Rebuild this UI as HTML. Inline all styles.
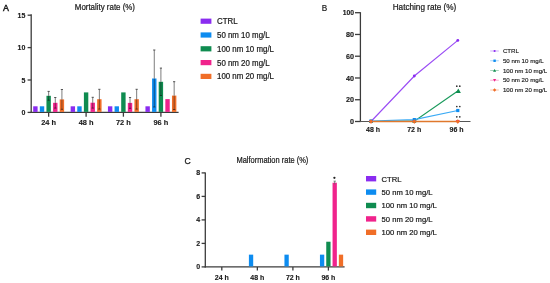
<!DOCTYPE html>
<html><head><meta charset="utf-8"><style>
html,body{margin:0;padding:0;background:#fff;}
svg{display:block;font-family:"Liberation Sans",sans-serif;will-change:transform;}
text{-webkit-font-smoothing:antialiased;}
</style></head><body>
<svg width="550" height="283" viewBox="0 0 550 283">
<rect x="0" y="0" width="550" height="283" fill="#fff"/>
<text x="3.00" y="10.50" font-size="8.9" stroke="#1a1a1a" stroke-width="0.45" text-anchor="start" fill="#1a1a1a">A</text>
<text x="74.80" y="9.90" font-size="8.6" stroke="#1a1a1a" stroke-width="0.22" text-anchor="start" textLength="60.2" lengthAdjust="spacingAndGlyphs" fill="#1a1a1a">Mortality rate (%)</text>
<line x1="31.20" y1="14.30" x2="31.20" y2="112.95" stroke="#3c3c3c" stroke-width="1.3"/>
<line x1="27.60" y1="112.40" x2="31.20" y2="112.40" stroke="#3c3c3c" stroke-width="1.3"/>
<text x="25.40" y="114.90" font-size="7" font-weight="bold" stroke="#1a1a1a" stroke-width="0.12" text-anchor="end" fill="#1a1a1a">0</text>
<line x1="27.60" y1="80.00" x2="31.20" y2="80.00" stroke="#3c3c3c" stroke-width="1.3"/>
<text x="25.40" y="82.50" font-size="7" font-weight="bold" stroke="#1a1a1a" stroke-width="0.12" text-anchor="end" fill="#1a1a1a">5</text>
<line x1="27.60" y1="47.60" x2="31.20" y2="47.60" stroke="#3c3c3c" stroke-width="1.3"/>
<text x="25.40" y="50.10" font-size="7" font-weight="bold" stroke="#1a1a1a" stroke-width="0.12" text-anchor="end" fill="#1a1a1a">10</text>
<line x1="27.60" y1="15.20" x2="31.20" y2="15.20" stroke="#3c3c3c" stroke-width="1.3"/>
<text x="25.40" y="17.70" font-size="7" font-weight="bold" stroke="#1a1a1a" stroke-width="0.12" text-anchor="end" fill="#1a1a1a">15</text>
<line x1="30.70" y1="112.40" x2="178.60" y2="112.40" stroke="#3c3c3c" stroke-width="1.3"/>
<rect x="33.19" y="106.30" width="4.40" height="5.60" fill="#8A2CF0"/>
<rect x="39.82" y="106.30" width="4.40" height="5.60" fill="#0D8CF0"/>
<rect x="46.45" y="95.80" width="4.40" height="16.10" fill="#0F8C50"/>
<rect x="53.08" y="102.80" width="4.40" height="9.10" fill="#F0238C"/>
<rect x="59.71" y="99.40" width="4.40" height="12.50" fill="#F06E28"/>
<line x1="48.65" y1="91.40" x2="48.65" y2="95.80" stroke="#666666" stroke-width="0.85"/>
<line x1="48.65" y1="95.80" x2="48.65" y2="100.20" stroke="rgba(20,20,20,0.55)" stroke-width="0.85"/>
<line x1="47.55" y1="91.40" x2="49.75" y2="91.40" stroke="#444" stroke-width="0.9"/>
<line x1="47.55" y1="100.20" x2="49.75" y2="100.20" stroke="rgba(20,20,20,0.7)" stroke-width="0.9"/>
<line x1="55.28" y1="97.50" x2="55.28" y2="102.80" stroke="#666666" stroke-width="0.85"/>
<line x1="55.28" y1="102.80" x2="55.28" y2="108.10" stroke="rgba(20,20,20,0.55)" stroke-width="0.85"/>
<line x1="54.18" y1="97.50" x2="56.38" y2="97.50" stroke="#444" stroke-width="0.9"/>
<line x1="54.18" y1="108.10" x2="56.38" y2="108.10" stroke="rgba(20,20,20,0.7)" stroke-width="0.9"/>
<line x1="61.91" y1="89.50" x2="61.91" y2="99.40" stroke="#666666" stroke-width="0.85"/>
<line x1="61.91" y1="99.40" x2="61.91" y2="109.30" stroke="rgba(20,20,20,0.55)" stroke-width="0.85"/>
<line x1="60.81" y1="89.50" x2="63.01" y2="89.50" stroke="#444" stroke-width="0.9"/>
<line x1="60.81" y1="109.30" x2="63.01" y2="109.30" stroke="rgba(20,20,20,0.7)" stroke-width="0.9"/>
<line x1="48.65" y1="112.40" x2="48.65" y2="116.70" stroke="#3c3c3c" stroke-width="1.3"/>
<text x="48.65" y="125.20" font-size="7.4" font-weight="bold" stroke="#1a1a1a" stroke-width="0.12" text-anchor="middle" fill="#1a1a1a">24 h</text>
<rect x="70.64" y="106.30" width="4.40" height="5.60" fill="#8A2CF0"/>
<rect x="77.27" y="106.30" width="4.40" height="5.60" fill="#0D8CF0"/>
<rect x="83.90" y="92.40" width="4.40" height="19.50" fill="#0F8C50"/>
<rect x="90.53" y="102.70" width="4.40" height="9.20" fill="#F0238C"/>
<rect x="97.16" y="99.20" width="4.40" height="12.70" fill="#F06E28"/>
<line x1="92.73" y1="97.30" x2="92.73" y2="102.70" stroke="#666666" stroke-width="0.85"/>
<line x1="92.73" y1="102.70" x2="92.73" y2="108.10" stroke="rgba(20,20,20,0.55)" stroke-width="0.85"/>
<line x1="91.63" y1="97.30" x2="93.83" y2="97.30" stroke="#444" stroke-width="0.9"/>
<line x1="91.63" y1="108.10" x2="93.83" y2="108.10" stroke="rgba(20,20,20,0.7)" stroke-width="0.9"/>
<line x1="99.36" y1="89.30" x2="99.36" y2="99.20" stroke="#666666" stroke-width="0.85"/>
<line x1="99.36" y1="99.20" x2="99.36" y2="109.10" stroke="rgba(20,20,20,0.55)" stroke-width="0.85"/>
<line x1="98.26" y1="89.30" x2="100.46" y2="89.30" stroke="#444" stroke-width="0.9"/>
<line x1="98.26" y1="109.10" x2="100.46" y2="109.10" stroke="rgba(20,20,20,0.7)" stroke-width="0.9"/>
<line x1="86.10" y1="112.40" x2="86.10" y2="116.70" stroke="#3c3c3c" stroke-width="1.3"/>
<text x="86.10" y="125.20" font-size="7.4" font-weight="bold" stroke="#1a1a1a" stroke-width="0.12" text-anchor="middle" fill="#1a1a1a">48 h</text>
<rect x="107.94" y="106.30" width="4.40" height="5.60" fill="#8A2CF0"/>
<rect x="114.57" y="106.30" width="4.40" height="5.60" fill="#0D8CF0"/>
<rect x="121.20" y="92.40" width="4.40" height="19.50" fill="#0F8C50"/>
<rect x="127.83" y="102.90" width="4.40" height="9.00" fill="#F0238C"/>
<rect x="134.46" y="99.20" width="4.40" height="12.70" fill="#F06E28"/>
<line x1="130.03" y1="97.50" x2="130.03" y2="102.90" stroke="#666666" stroke-width="0.85"/>
<line x1="130.03" y1="102.90" x2="130.03" y2="108.30" stroke="rgba(20,20,20,0.55)" stroke-width="0.85"/>
<line x1="128.93" y1="97.50" x2="131.13" y2="97.50" stroke="#444" stroke-width="0.9"/>
<line x1="128.93" y1="108.30" x2="131.13" y2="108.30" stroke="rgba(20,20,20,0.7)" stroke-width="0.9"/>
<line x1="136.66" y1="89.30" x2="136.66" y2="99.20" stroke="#666666" stroke-width="0.85"/>
<line x1="136.66" y1="99.20" x2="136.66" y2="109.10" stroke="rgba(20,20,20,0.55)" stroke-width="0.85"/>
<line x1="135.56" y1="89.30" x2="137.76" y2="89.30" stroke="#444" stroke-width="0.9"/>
<line x1="135.56" y1="109.10" x2="137.76" y2="109.10" stroke="rgba(20,20,20,0.7)" stroke-width="0.9"/>
<line x1="123.40" y1="112.40" x2="123.40" y2="116.70" stroke="#3c3c3c" stroke-width="1.3"/>
<text x="123.40" y="125.20" font-size="7.4" font-weight="bold" stroke="#1a1a1a" stroke-width="0.12" text-anchor="middle" fill="#1a1a1a">72 h</text>
<rect x="145.44" y="106.30" width="4.40" height="5.60" fill="#8A2CF0"/>
<rect x="152.07" y="78.50" width="4.40" height="33.40" fill="#0D8CF0"/>
<rect x="158.70" y="81.80" width="4.40" height="30.10" fill="#0F8C50"/>
<rect x="165.33" y="99.10" width="4.40" height="12.80" fill="#F0238C"/>
<rect x="171.96" y="95.60" width="4.40" height="16.30" fill="#F06E28"/>
<line x1="154.27" y1="50.00" x2="154.27" y2="78.50" stroke="#666666" stroke-width="0.85"/>
<line x1="154.27" y1="78.50" x2="154.27" y2="107.00" stroke="rgba(20,20,20,0.55)" stroke-width="0.85"/>
<line x1="153.17" y1="50.00" x2="155.37" y2="50.00" stroke="#444" stroke-width="0.9"/>
<line x1="153.17" y1="107.00" x2="155.37" y2="107.00" stroke="rgba(20,20,20,0.7)" stroke-width="0.9"/>
<line x1="160.90" y1="68.10" x2="160.90" y2="81.80" stroke="#666666" stroke-width="0.85"/>
<line x1="160.90" y1="81.80" x2="160.90" y2="95.50" stroke="rgba(20,20,20,0.55)" stroke-width="0.85"/>
<line x1="159.80" y1="68.10" x2="162.00" y2="68.10" stroke="#444" stroke-width="0.9"/>
<line x1="159.80" y1="95.50" x2="162.00" y2="95.50" stroke="rgba(20,20,20,0.7)" stroke-width="0.9"/>
<line x1="174.16" y1="81.70" x2="174.16" y2="95.60" stroke="#666666" stroke-width="0.85"/>
<line x1="174.16" y1="95.60" x2="174.16" y2="109.50" stroke="rgba(20,20,20,0.55)" stroke-width="0.85"/>
<line x1="173.06" y1="81.70" x2="175.26" y2="81.70" stroke="#444" stroke-width="0.9"/>
<line x1="173.06" y1="109.50" x2="175.26" y2="109.50" stroke="rgba(20,20,20,0.7)" stroke-width="0.9"/>
<line x1="160.90" y1="112.40" x2="160.90" y2="116.70" stroke="#3c3c3c" stroke-width="1.3"/>
<text x="160.90" y="125.20" font-size="7.4" font-weight="bold" stroke="#1a1a1a" stroke-width="0.12" text-anchor="middle" fill="#1a1a1a">96 h</text>
<rect x="200.60" y="18.60" width="10.80" height="5.20" fill="#8A2CF0"/>
<text x="217.00" y="24.10" font-size="8.3" stroke="#1a1a1a" stroke-width="0.22" text-anchor="start" textLength="20.59" lengthAdjust="spacingAndGlyphs" fill="#1a1a1a">CTRL</text>
<rect x="200.60" y="32.40" width="10.80" height="5.20" fill="#0D8CF0"/>
<text x="217.00" y="37.90" font-size="8.3" stroke="#1a1a1a" stroke-width="0.22" text-anchor="start" textLength="52.6" lengthAdjust="spacingAndGlyphs" fill="#1a1a1a">50 nm 10 mg/L</text>
<rect x="200.60" y="46.20" width="10.80" height="5.20" fill="#0F8C50"/>
<text x="217.00" y="51.70" font-size="8.3" stroke="#1a1a1a" stroke-width="0.22" text-anchor="start" textLength="56.98" lengthAdjust="spacingAndGlyphs" fill="#1a1a1a">100 nm 10 mg/L</text>
<rect x="200.60" y="60.00" width="10.80" height="5.20" fill="#F0238C"/>
<text x="217.00" y="65.50" font-size="8.3" stroke="#1a1a1a" stroke-width="0.22" text-anchor="start" textLength="52.6" lengthAdjust="spacingAndGlyphs" fill="#1a1a1a">50 nm 20 mg/L</text>
<rect x="200.60" y="73.80" width="10.80" height="5.20" fill="#F06E28"/>
<text x="217.00" y="79.30" font-size="8.3" stroke="#1a1a1a" stroke-width="0.22" text-anchor="start" textLength="56.98" lengthAdjust="spacingAndGlyphs" fill="#1a1a1a">100 nm 20 mg/L</text>
<text x="321.70" y="10.60" font-size="8.2" stroke="#1a1a1a" stroke-width="0.2" text-anchor="start" fill="#1a1a1a">B</text>
<text x="392.70" y="9.80" font-size="8.5" stroke="#1a1a1a" stroke-width="0.22" text-anchor="start" textLength="63.6" lengthAdjust="spacingAndGlyphs" fill="#1a1a1a">Hatching rate (%)</text>
<line x1="360.40" y1="12.20" x2="360.40" y2="122.05" stroke="#3c3c3c" stroke-width="1.3"/>
<line x1="355.00" y1="121.50" x2="360.40" y2="121.50" stroke="#3c3c3c" stroke-width="1.3"/>
<text x="354.00" y="124.05" font-size="7.2" font-weight="bold" stroke="#1a1a1a" stroke-width="0.15" text-anchor="end" fill="#1a1a1a">0</text>
<line x1="355.00" y1="99.74" x2="360.40" y2="99.74" stroke="#3c3c3c" stroke-width="1.3"/>
<text x="354.00" y="102.29" font-size="7.2" font-weight="bold" stroke="#1a1a1a" stroke-width="0.15" text-anchor="end" fill="#1a1a1a">20</text>
<line x1="355.00" y1="77.98" x2="360.40" y2="77.98" stroke="#3c3c3c" stroke-width="1.3"/>
<text x="354.00" y="80.53" font-size="7.2" font-weight="bold" stroke="#1a1a1a" stroke-width="0.15" text-anchor="end" fill="#1a1a1a">40</text>
<line x1="355.00" y1="56.22" x2="360.40" y2="56.22" stroke="#3c3c3c" stroke-width="1.3"/>
<text x="354.00" y="58.77" font-size="7.2" font-weight="bold" stroke="#1a1a1a" stroke-width="0.15" text-anchor="end" fill="#1a1a1a">60</text>
<line x1="355.00" y1="34.46" x2="360.40" y2="34.46" stroke="#3c3c3c" stroke-width="1.3"/>
<text x="354.00" y="37.01" font-size="7.2" font-weight="bold" stroke="#1a1a1a" stroke-width="0.15" text-anchor="end" fill="#1a1a1a">80</text>
<line x1="355.00" y1="12.70" x2="360.40" y2="12.70" stroke="#3c3c3c" stroke-width="1.3"/>
<text x="354.00" y="15.25" font-size="7.2" font-weight="bold" stroke="#1a1a1a" stroke-width="0.15" text-anchor="end" textLength="11.3" lengthAdjust="spacingAndGlyphs" fill="#1a1a1a">100</text>
<line x1="359.90" y1="121.50" x2="470.50" y2="121.50" stroke="#555555" stroke-width="1.1"/>
<text x="373.00" y="132.40" font-size="7" font-weight="bold" stroke="#1a1a1a" stroke-width="0.12" text-anchor="middle" fill="#1a1a1a">48 h</text>
<text x="414.20" y="132.40" font-size="7" font-weight="bold" stroke="#1a1a1a" stroke-width="0.12" text-anchor="middle" fill="#1a1a1a">72 h</text>
<text x="456.60" y="132.40" font-size="7" font-weight="bold" stroke="#1a1a1a" stroke-width="0.12" text-anchor="middle" fill="#1a1a1a">96 h</text>
<polyline points="371.00,121.50 414.30,121.50 457.80,121.50" fill="none" stroke="#F0238C" stroke-width="1"/>
<polyline points="371.00,121.50 414.30,121.20 457.80,91.00" fill="none" stroke="#1a9a5c" stroke-width="1.2"/>
<polyline points="371.00,121.00 414.30,119.60 457.80,110.50" fill="none" stroke="#3aaaf5" stroke-width="1.1"/>
<polyline points="371.00,121.50 414.30,121.50 457.80,121.50" fill="none" stroke="#E0782C" stroke-width="1.35"/>
<polyline points="371.00,121.50 414.30,76.00 457.80,40.40" fill="none" stroke="#9A4CF5" stroke-width="1.15"/>
<circle cx="371.00" cy="121.50" r="1.44" fill="#8A2CF0"/>
<polygon points="371.00,123.58 373.08,119.90 368.92,119.90" fill="#F0238C"/>
<polygon points="371.00,119.42 373.08,123.10 368.92,123.10" fill="#0F8C50"/>
<rect x="369.40" y="119.40" width="3.20" height="3.20" fill="#0D8CF0"/>
<polygon points="371.00,119.26 373.24,121.50 371.00,123.74 368.76,121.50" fill="#F06E28"/>
<circle cx="414.30" cy="76.00" r="1.44" fill="#8A2CF0"/>
<polygon points="414.30,123.58 416.38,119.90 412.22,119.90" fill="#F0238C"/>
<polygon points="414.30,119.12 416.38,122.80 412.22,122.80" fill="#0F8C50"/>
<rect x="412.70" y="118.00" width="3.20" height="3.20" fill="#0D8CF0"/>
<polygon points="414.30,119.26 416.54,121.50 414.30,123.74 412.06,121.50" fill="#F06E28"/>
<circle cx="457.80" cy="40.40" r="1.44" fill="#8A2CF0"/>
<polygon points="457.80,123.58 459.88,119.90 455.72,119.90" fill="#F0238C"/>
<polygon points="458.30,88.40 460.90,93.00 455.70,93.00" fill="#0F8C50"/>
<rect x="456.20" y="108.90" width="3.20" height="3.20" fill="#0D8CF0"/>
<polygon points="457.80,119.26 460.04,121.50 457.80,123.74 455.56,121.50" fill="#F06E28"/>
<circle cx="456.80" cy="86.2" r="0.85" fill="#333"/>
<circle cx="459.80" cy="86.2" r="0.85" fill="#333"/>
<circle cx="456.80" cy="106.5" r="0.85" fill="#333"/>
<circle cx="459.80" cy="106.5" r="0.85" fill="#333"/>
<circle cx="456.80" cy="116.8" r="0.85" fill="#333"/>
<circle cx="459.80" cy="116.8" r="0.85" fill="#333"/>
<line x1="490.20" y1="51.00" x2="498.80" y2="51.00" stroke="#c9a6f8" stroke-width="0.9"/>
<circle cx="494.60" cy="51.00" r="1.08" fill="#8A2CF0"/>
<text x="502.90" y="53.00" font-size="5.7" stroke="#1a1a1a" stroke-width="0.15" text-anchor="start" textLength="16.0" lengthAdjust="spacingAndGlyphs" fill="#1a1a1a">CTRL</text>
<line x1="490.20" y1="60.75" x2="498.80" y2="60.75" stroke="#9fd0f8" stroke-width="0.9"/>
<rect x="493.40" y="59.55" width="2.40" height="2.40" fill="#0D8CF0"/>
<text x="502.90" y="62.75" font-size="5.7" stroke="#1a1a1a" stroke-width="0.15" text-anchor="start" textLength="40.87" lengthAdjust="spacingAndGlyphs" fill="#1a1a1a">50 nm 10 mg/L</text>
<line x1="490.20" y1="70.50" x2="498.80" y2="70.50" stroke="#9fcfb5" stroke-width="0.9"/>
<polygon points="494.60,68.94 496.16,71.70 493.04,71.70" fill="#0F8C50"/>
<text x="502.90" y="72.50" font-size="5.7" stroke="#1a1a1a" stroke-width="0.15" text-anchor="start" textLength="44.28" lengthAdjust="spacingAndGlyphs" fill="#1a1a1a">100 nm 10 mg/L</text>
<line x1="490.20" y1="80.25" x2="498.80" y2="80.25" stroke="#f8a6cf" stroke-width="0.9"/>
<polygon points="494.60,81.81 496.16,79.05 493.04,79.05" fill="#F0238C"/>
<text x="502.90" y="82.25" font-size="5.7" stroke="#1a1a1a" stroke-width="0.15" text-anchor="start" textLength="40.87" lengthAdjust="spacingAndGlyphs" fill="#1a1a1a">50 nm 20 mg/L</text>
<line x1="490.20" y1="90.00" x2="498.80" y2="90.00" stroke="#f8c0a0" stroke-width="0.9"/>
<polygon points="494.60,88.32 496.28,90.00 494.60,91.68 492.92,90.00" fill="#F06E28"/>
<text x="502.90" y="92.00" font-size="5.7" stroke="#1a1a1a" stroke-width="0.15" text-anchor="start" textLength="44.28" lengthAdjust="spacingAndGlyphs" fill="#1a1a1a">100 nm 20 mg/L</text>
<text x="184.40" y="164.10" font-size="8.6" stroke="#1a1a1a" stroke-width="0.25" text-anchor="start" fill="#1a1a1a">C</text>
<text x="236.50" y="163.10" font-size="8.5" stroke="#1a1a1a" stroke-width="0.22" text-anchor="start" textLength="71.8" lengthAdjust="spacingAndGlyphs" fill="#1a1a1a">Malformation rate (%)</text>
<line x1="205.30" y1="172.40" x2="205.30" y2="267.45" stroke="#3c3c3c" stroke-width="1.3"/>
<line x1="201.60" y1="266.90" x2="205.30" y2="266.90" stroke="#3c3c3c" stroke-width="1.3"/>
<text x="200.20" y="269.40" font-size="7.0" font-weight="bold" stroke="#1a1a1a" stroke-width="0.12" text-anchor="end" fill="#1a1a1a">0</text>
<line x1="201.60" y1="243.40" x2="205.30" y2="243.40" stroke="#3c3c3c" stroke-width="1.3"/>
<text x="200.20" y="245.90" font-size="7.0" font-weight="bold" stroke="#1a1a1a" stroke-width="0.12" text-anchor="end" fill="#1a1a1a">2</text>
<line x1="201.60" y1="219.90" x2="205.30" y2="219.90" stroke="#3c3c3c" stroke-width="1.3"/>
<text x="200.20" y="222.40" font-size="7.0" font-weight="bold" stroke="#1a1a1a" stroke-width="0.12" text-anchor="end" fill="#1a1a1a">4</text>
<line x1="201.60" y1="196.40" x2="205.30" y2="196.40" stroke="#3c3c3c" stroke-width="1.3"/>
<text x="200.20" y="198.90" font-size="7.0" font-weight="bold" stroke="#1a1a1a" stroke-width="0.12" text-anchor="end" fill="#1a1a1a">6</text>
<line x1="201.60" y1="172.90" x2="205.30" y2="172.90" stroke="#3c3c3c" stroke-width="1.3"/>
<text x="200.20" y="175.40" font-size="7.0" font-weight="bold" stroke="#1a1a1a" stroke-width="0.12" text-anchor="end" fill="#1a1a1a">8</text>
<line x1="204.80" y1="266.90" x2="344.60" y2="266.90" stroke="#3c3c3c" stroke-width="1.3"/>
<line x1="221.80" y1="266.90" x2="221.80" y2="270.60" stroke="#3c3c3c" stroke-width="1.3"/>
<text x="221.80" y="279.80" font-size="7" font-weight="bold" stroke="#1a1a1a" stroke-width="0.12" text-anchor="middle" fill="#1a1a1a">24 h</text>
<rect x="248.90" y="254.65" width="4.30" height="11.75" fill="#0D8CF0"/>
<line x1="257.35" y1="266.90" x2="257.35" y2="270.60" stroke="#3c3c3c" stroke-width="1.3"/>
<text x="257.35" y="279.80" font-size="7" font-weight="bold" stroke="#1a1a1a" stroke-width="0.12" text-anchor="middle" fill="#1a1a1a">48 h</text>
<rect x="284.45" y="254.65" width="4.30" height="11.75" fill="#0D8CF0"/>
<line x1="292.90" y1="266.90" x2="292.90" y2="270.60" stroke="#3c3c3c" stroke-width="1.3"/>
<text x="292.90" y="279.80" font-size="7" font-weight="bold" stroke="#1a1a1a" stroke-width="0.12" text-anchor="middle" fill="#1a1a1a">72 h</text>
<rect x="319.95" y="254.65" width="4.30" height="11.75" fill="#0D8CF0"/>
<rect x="326.25" y="241.72" width="4.30" height="24.68" fill="#0F8C50"/>
<rect x="332.55" y="182.74" width="4.30" height="83.66" fill="#F0238C"/>
<rect x="338.85" y="254.65" width="4.30" height="11.75" fill="#F06E28"/>
<line x1="328.40" y1="266.90" x2="328.40" y2="270.60" stroke="#3c3c3c" stroke-width="1.3"/>
<text x="328.40" y="279.80" font-size="7" font-weight="bold" stroke="#1a1a1a" stroke-width="0.12" text-anchor="middle" fill="#1a1a1a">96 h</text>
<line x1="334.70" y1="181.14" x2="334.70" y2="184.34" stroke="#666666" stroke-width="0.8"/>
<line x1="333.50" y1="181.14" x2="335.90" y2="181.14" stroke="#666666" stroke-width="0.8"/>
<circle cx="334.40" cy="177.8" r="1.15" fill="#222"/>
<rect x="366.00" y="176.00" width="10.20" height="5.40" fill="#8A2CF0"/>
<text x="381.60" y="181.50" font-size="8.0" stroke="#1a1a1a" stroke-width="0.22" text-anchor="start" textLength="19.95" lengthAdjust="spacingAndGlyphs" fill="#1a1a1a">CTRL</text>
<rect x="366.00" y="189.40" width="10.20" height="5.40" fill="#0D8CF0"/>
<text x="381.60" y="194.90" font-size="8.0" stroke="#1a1a1a" stroke-width="0.22" text-anchor="start" textLength="50.96" lengthAdjust="spacingAndGlyphs" fill="#1a1a1a">50 nm 10 mg/L</text>
<rect x="366.00" y="202.80" width="10.20" height="5.40" fill="#0F8C50"/>
<text x="381.60" y="208.30" font-size="8.0" stroke="#1a1a1a" stroke-width="0.22" text-anchor="start" textLength="55.21" lengthAdjust="spacingAndGlyphs" fill="#1a1a1a">100 nm 10 mg/L</text>
<rect x="366.00" y="216.20" width="10.20" height="5.40" fill="#F0238C"/>
<text x="381.60" y="221.70" font-size="8.0" stroke="#1a1a1a" stroke-width="0.22" text-anchor="start" textLength="50.96" lengthAdjust="spacingAndGlyphs" fill="#1a1a1a">50 nm 20 mg/L</text>
<rect x="366.00" y="229.60" width="10.20" height="5.40" fill="#F06E28"/>
<text x="381.60" y="235.10" font-size="8.0" stroke="#1a1a1a" stroke-width="0.22" text-anchor="start" textLength="55.21" lengthAdjust="spacingAndGlyphs" fill="#1a1a1a">100 nm 20 mg/L</text>
</svg>
</body></html>
